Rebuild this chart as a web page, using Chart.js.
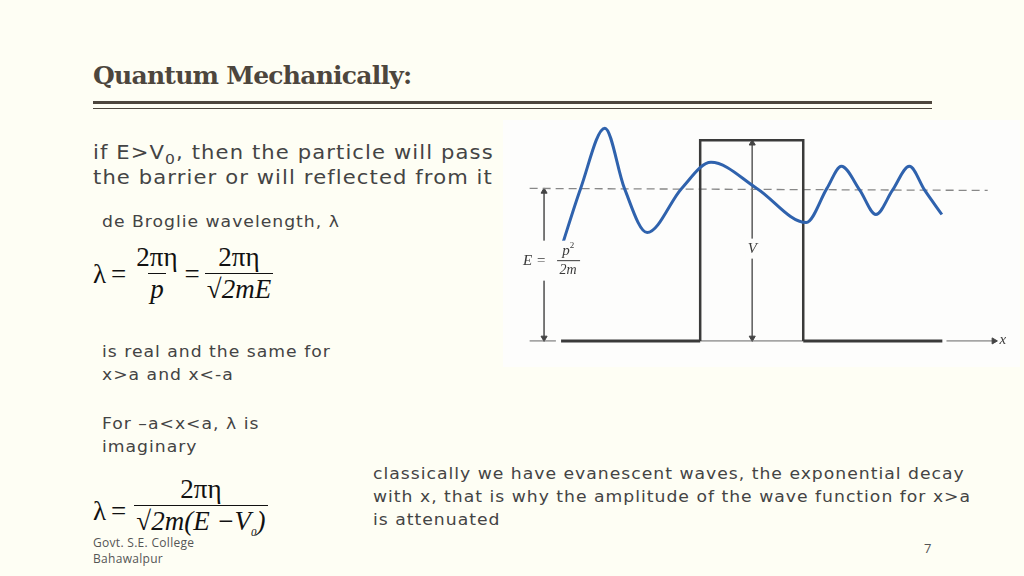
<!DOCTYPE html>
<html>
<head>
<meta charset="utf-8">
<script src="https://cdn.jsdelivr.net/npm/chart.js@4"></script>
<style>
  html, body { margin: 0; padding: 0; }
  body { width: 1024px; height: 576px; background: #fefef4; position: relative; overflow: hidden;
         font-family: "DejaVu Sans", Verdana, sans-serif; color: #444; }
  .abs { position: absolute; white-space: nowrap; }
  #title { left: 93px; top: 61px; font-family: "DejaVu Serif", serif; font-weight: bold; font-size: 25px;
           color: #4d463d; letter-spacing: -0.75px; }
  .rule { position: absolute; left: 93px; width: 839px; background: #4d463d; }
  .wide { transform: scaleX(1.11); transform-origin: 0 0; }
  .big { font-size: 19px; line-height: 25px; letter-spacing: 1px; }
  .mid { font-size: 15.5px; line-height: 23px; letter-spacing: 0.9px; }
  .math { font-family: "Liberation Serif", "Times New Roman", serif; color: #111; font-size: 27px;
          display: flex; align-items: center; }
  .frac { display: inline-flex; flex-direction: column; align-items: center; margin: 0 3px; }
  .frac .num { padding: 0 2px 2px; line-height: 27px; }
  .frac .den { border-top: 1.5px solid #111; padding: 0 2px; line-height: 30px; }
  .sqrt { border-top: 1.2px solid #111; font-style: italic; }
  .foot { font-family: "Open Sans", sans-serif; font-size: 12px; color: #555; line-height: 16px; letter-spacing: 0.3px; }
  #fig { position: absolute; left: 503px; top: 120px; width: 517px; height: 247px; background: #fdfdfc; }
</style>
</head>
<body>
<div id="title" class="abs">Quantum Mechanically:</div>
<div class="rule" style="top:101px;height:3px"></div>
<div class="rule" style="top:108px;height:1px"></div>

<div class="abs big wide" style="left:93px;top:140px">if E&gt;V<sub style="font-size:14px">0</sub>, then the particle will pass</div>
<div class="abs big wide" style="left:93px;top:165px">the barrier or will reflected from it</div>
<div class="abs mid wide" style="left:102px;top:211px">de Broglie wavelength, λ</div>

<div class="abs math" style="left:93px;top:244px">
  <span>λ</span><span style="margin:0 5px">=</span>
  <span class="frac"><span class="num">2πη</span><span class="den"><i>p</i></span></span>
  <span style="margin:0 2px">=</span>
  <span class="frac"><span class="num">2πη</span><span class="den">√<span class="sqrt">2mE</span></span></span>
</div>

<div class="abs mid wide" style="left:102px;top:341px">is real and the same for<br>x&gt;a and x&lt;-a</div>
<div class="abs mid wide" style="left:102px;top:413px">For –a&lt;x&lt;a, λ is<br>imaginary</div>

<div class="abs math" style="left:93px;top:476px">
  <span>λ</span><span style="margin:0 5px">=</span>
  <span class="frac"><span class="num">2πη</span><span class="den">√<span class="sqrt">2m(E −V<sub style="font-size:11px">0</sub>)</span></span></span>
</div>

<div class="abs foot" style="left:93px;top:535px">Govt. S.E. College<br>Bahawalpur</div>
<div class="abs mid wide" style="left:373px;top:463px">classically we have evanescent waves, the exponential decay<br>with x, that is why the amplitude of the wave function for x&gt;a<br>is attenuated</div>
<div class="abs foot" style="left:924px;top:540px;font-size:13px">7</div>

<canvas id="fig" width="517" height="247"></canvas>

<script>
// positions along x: barrier spans -1..1 (i.e. -a..a), heights in units of V
const waveX = [-3.70, -3.32, -2.85, -2.47, -2.03, -1.36, -0.79, 0.10, 1.06, 1.46, 1.74, 2.10, 2.41, 2.73, 3.06, 3.36, 3.69];
const waveY = [0.46, 0.76, 1.06, 0.76, 0.54, 0.76, 0.89, 0.76, 0.59, 0.76, 0.87, 0.75, 0.63, 0.75, 0.87, 0.75, 0.63];
const barrierX = [-1, -1, 1, 1];
const barrierY = [0, 1, 1, 0];
const groundLeftX = [-3.70, -1];
const groundRightX = [1, 3.70];
const energyLevel = 0.76;
const barrierHeight = 1;
const energyLineX = [-4.31, 4.58];
const axisStubX = [-4.31, -3.80];
const axisArrowX = [3.78, 4.70];
const energyArrowX = -4.03;
const vArrowX = 0.01;

function pts(xs, ys) { return xs.map((x, i) => ({ x: x, y: ys[i] })); }

const labelPlugin = {
  id: 'labels',
  afterDatasetsDraw(chart) {
    const ctx = chart.ctx, sx = chart.scales.x, sy = chart.scales.y;
    const bg = '#fdfdfc', ink = '#3a3a3a';
    ctx.save();
    ctx.textBaseline = 'middle';
    ctx.textAlign = 'center';
    // V label sits in a gap of the arrow
    let px = sx.getPixelForValue(vArrowX), py = sy.getPixelForValue(0.46);
    ctx.fillStyle = bg;
    ctx.fillRect(px - 7, py - 10, 14, 20);
    ctx.fillStyle = ink;
    ctx.font = 'italic 15px "Liberation Serif", serif';
    ctx.fillText('V', px, py);
    // E = p^2 / 2m
    px = sx.getPixelForValue(energyArrowX);
    py = sy.getPixelForValue(0.40);
    ctx.fillStyle = bg;
    ctx.fillRect(px - 20, py - 20, 56, 40);
    ctx.fillStyle = ink;
    ctx.textAlign = 'left';
    ctx.fillText('E =', px - 21, py);
    ctx.textAlign = 'center';
    ctx.fillText('p', px + 22, py - 10);
    ctx.font = '9px "Liberation Serif", serif';
    ctx.fillText('2', px + 28, py - 15);
    ctx.font = 'italic 14px "Liberation Serif", serif';
    ctx.fillText('2m', px + 24, py + 10);
    ctx.fillRect(px + 13, py - 0.5, 23, 1);
    // x axis label
    ctx.font = 'italic 15px "Liberation Serif", serif';
    ctx.fillText('x', sx.getPixelForValue(axisArrowX[1]) + 9, sy.getPixelForValue(0) - 1);
    ctx.restore();
  }
};

const thin = { borderColor: '#666', borderWidth: 1, pointRadius: 0, fill: false };
const head = { pointStyle: 'triangle', pointBackgroundColor: '#444', pointBorderColor: '#444' };

new Chart(document.getElementById('fig'), {
  type: 'line',
  data: {
    datasets: [
      { label: 'wave', data: pts(waveX, waveY), borderColor: '#2f62ad', borderWidth: 3,
        pointRadius: 0, cubicInterpolationMode: 'monotone', fill: false },
      { label: 'barrier', data: pts(barrierX, barrierY), borderColor: '#3a3a3a', borderWidth: 2.5,
        pointRadius: 0, tension: 0, fill: false },
      { label: 'ground L', data: pts(groundLeftX, [0, 0]), borderColor: '#3a3a3a', borderWidth: 3, pointRadius: 0 },
      { label: 'ground R', data: pts(groundRightX, [0, 0]), borderColor: '#3a3a3a', borderWidth: 3, pointRadius: 0 },
      Object.assign({ label: 'inside', data: pts([-1, 1], [0, 0]) }, thin),
      Object.assign({ label: 'stub', data: pts(axisStubX, [0, 0]) }, thin),
      Object.assign({ label: 'x axis', data: pts(axisArrowX, [0, 0]) }, thin, head,
        { pointRadius: [0, 3.5], pointRotation: 90 }),
      { label: 'E level', data: pts(energyLineX, [energyLevel, energyLevel - 0.01]), borderColor: '#888',
        borderWidth: 1.3, borderDash: [8, 5], pointRadius: 0 },
      Object.assign({ label: 'E arrow', data: pts([energyArrowX, energyArrowX], [energyLevel - 0.015, 0.015]) }, thin, head,
        { pointRadius: 3.5, pointRotation: [0, 180] }),
      Object.assign({ label: 'V arrow', data: pts([vArrowX, vArrowX], [barrierHeight - 0.015, 0.015]) }, thin, head,
        { pointRadius: 3.5, pointRotation: [0, 180] })
    ]
  },
  options: {
    responsive: false,
    animation: false,
    layout: { padding: 0 },
    plugins: { legend: { display: false }, tooltip: { enabled: false } },
    scales: {
      x: { type: 'linear', min: -4.73, max: 5.11, display: false },
      y: { type: 'linear', min: -0.105, max: 1.076, display: false }
    }
  },
  plugins: [labelPlugin]
});
</script>
</body>
</html>
